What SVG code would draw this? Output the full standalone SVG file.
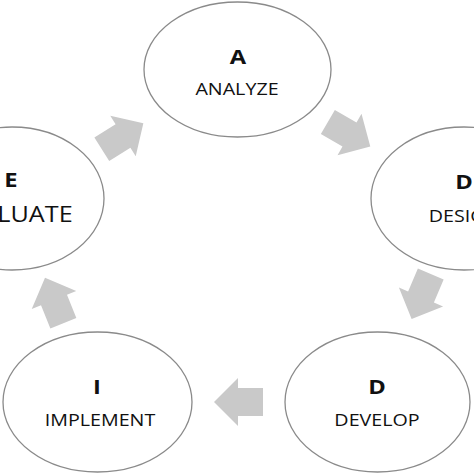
<svg xmlns="http://www.w3.org/2000/svg" width="474" height="474" viewBox="0 0 474 474">
<style>
.node ellipse{fill:#ffffff;stroke:#8a8a8a;stroke-width:1.3}
.t{font-family:"Open Sans","DejaVu Sans",sans-serif;font-size:16.4px;fill:#111;text-anchor:middle}
.b{font-family:"Open Sans","DejaVu Sans",sans-serif;font-size:19px;font-weight:bold;fill:#111;text-anchor:middle}
.arr{fill:#c9c9c9}
</style>
<defs>
<polygon id="blk" points="-25,-14 0,-14 0,-24 24,0 0,24 0,14 -25,14"/>
</defs>
<rect width="474" height="474" fill="#ffffff"/>
<g id="connectors">
<use href="#blk" class="arr" transform="translate(123,136) rotate(-32)"/>
<use href="#blk" class="arr" transform="translate(349.5,134.5) rotate(30)"/>
<use href="#blk" class="arr" transform="translate(421,297) rotate(113)"/>
<use href="#blk" class="arr" transform="translate(238,402) rotate(180)"/>
<use href="#blk" class="arr" transform="translate(54,300) rotate(-112)"/>
</g>
<g id="node-analyze" class="node">
<ellipse cx="237.5" cy="69.5" rx="93.5" ry="67.5"/>
<text class="b" transform="translate(238,63.5) scale(1.25,1)">A</text>
<text class="t" transform="translate(237,95) scale(1.2,1)">ANALYZE</text>
</g>
<g id="node-evaluate" class="node">
<ellipse cx="12" cy="198.5" rx="92" ry="71.5"/>
<text class="b" transform="translate(11,187) scale(1.25,1)">E</text>
<text class="t" style="font-size:21px" transform="translate(12.5,222) scale(1.2,1)">EVALUATE</text>
</g>
<g id="node-design" class="node">
<ellipse cx="464" cy="198.5" rx="93" ry="71.5"/>
<text class="b" transform="translate(464,189) scale(1.25,1)">D</text>
<text class="t" transform="translate(464,222) scale(1.2,1)">DESIGN</text>
</g>
<g id="node-develop" class="node">
<ellipse cx="377.5" cy="402" rx="92.5" ry="70"/>
<text class="b" transform="translate(377,394) scale(1.25,1)">D</text>
<text class="t" transform="translate(377,425.5) scale(1.2,1)">DEVELOP</text>
</g>
<g id="node-implement" class="node">
<ellipse cx="97.5" cy="402" rx="94.5" ry="70"/>
<text class="b" transform="translate(97,393.5) scale(1.25,1)">I</text>
<text class="t" transform="translate(100,426) scale(1.2,1)">IMPLEMENT</text>
</g>
</svg>
